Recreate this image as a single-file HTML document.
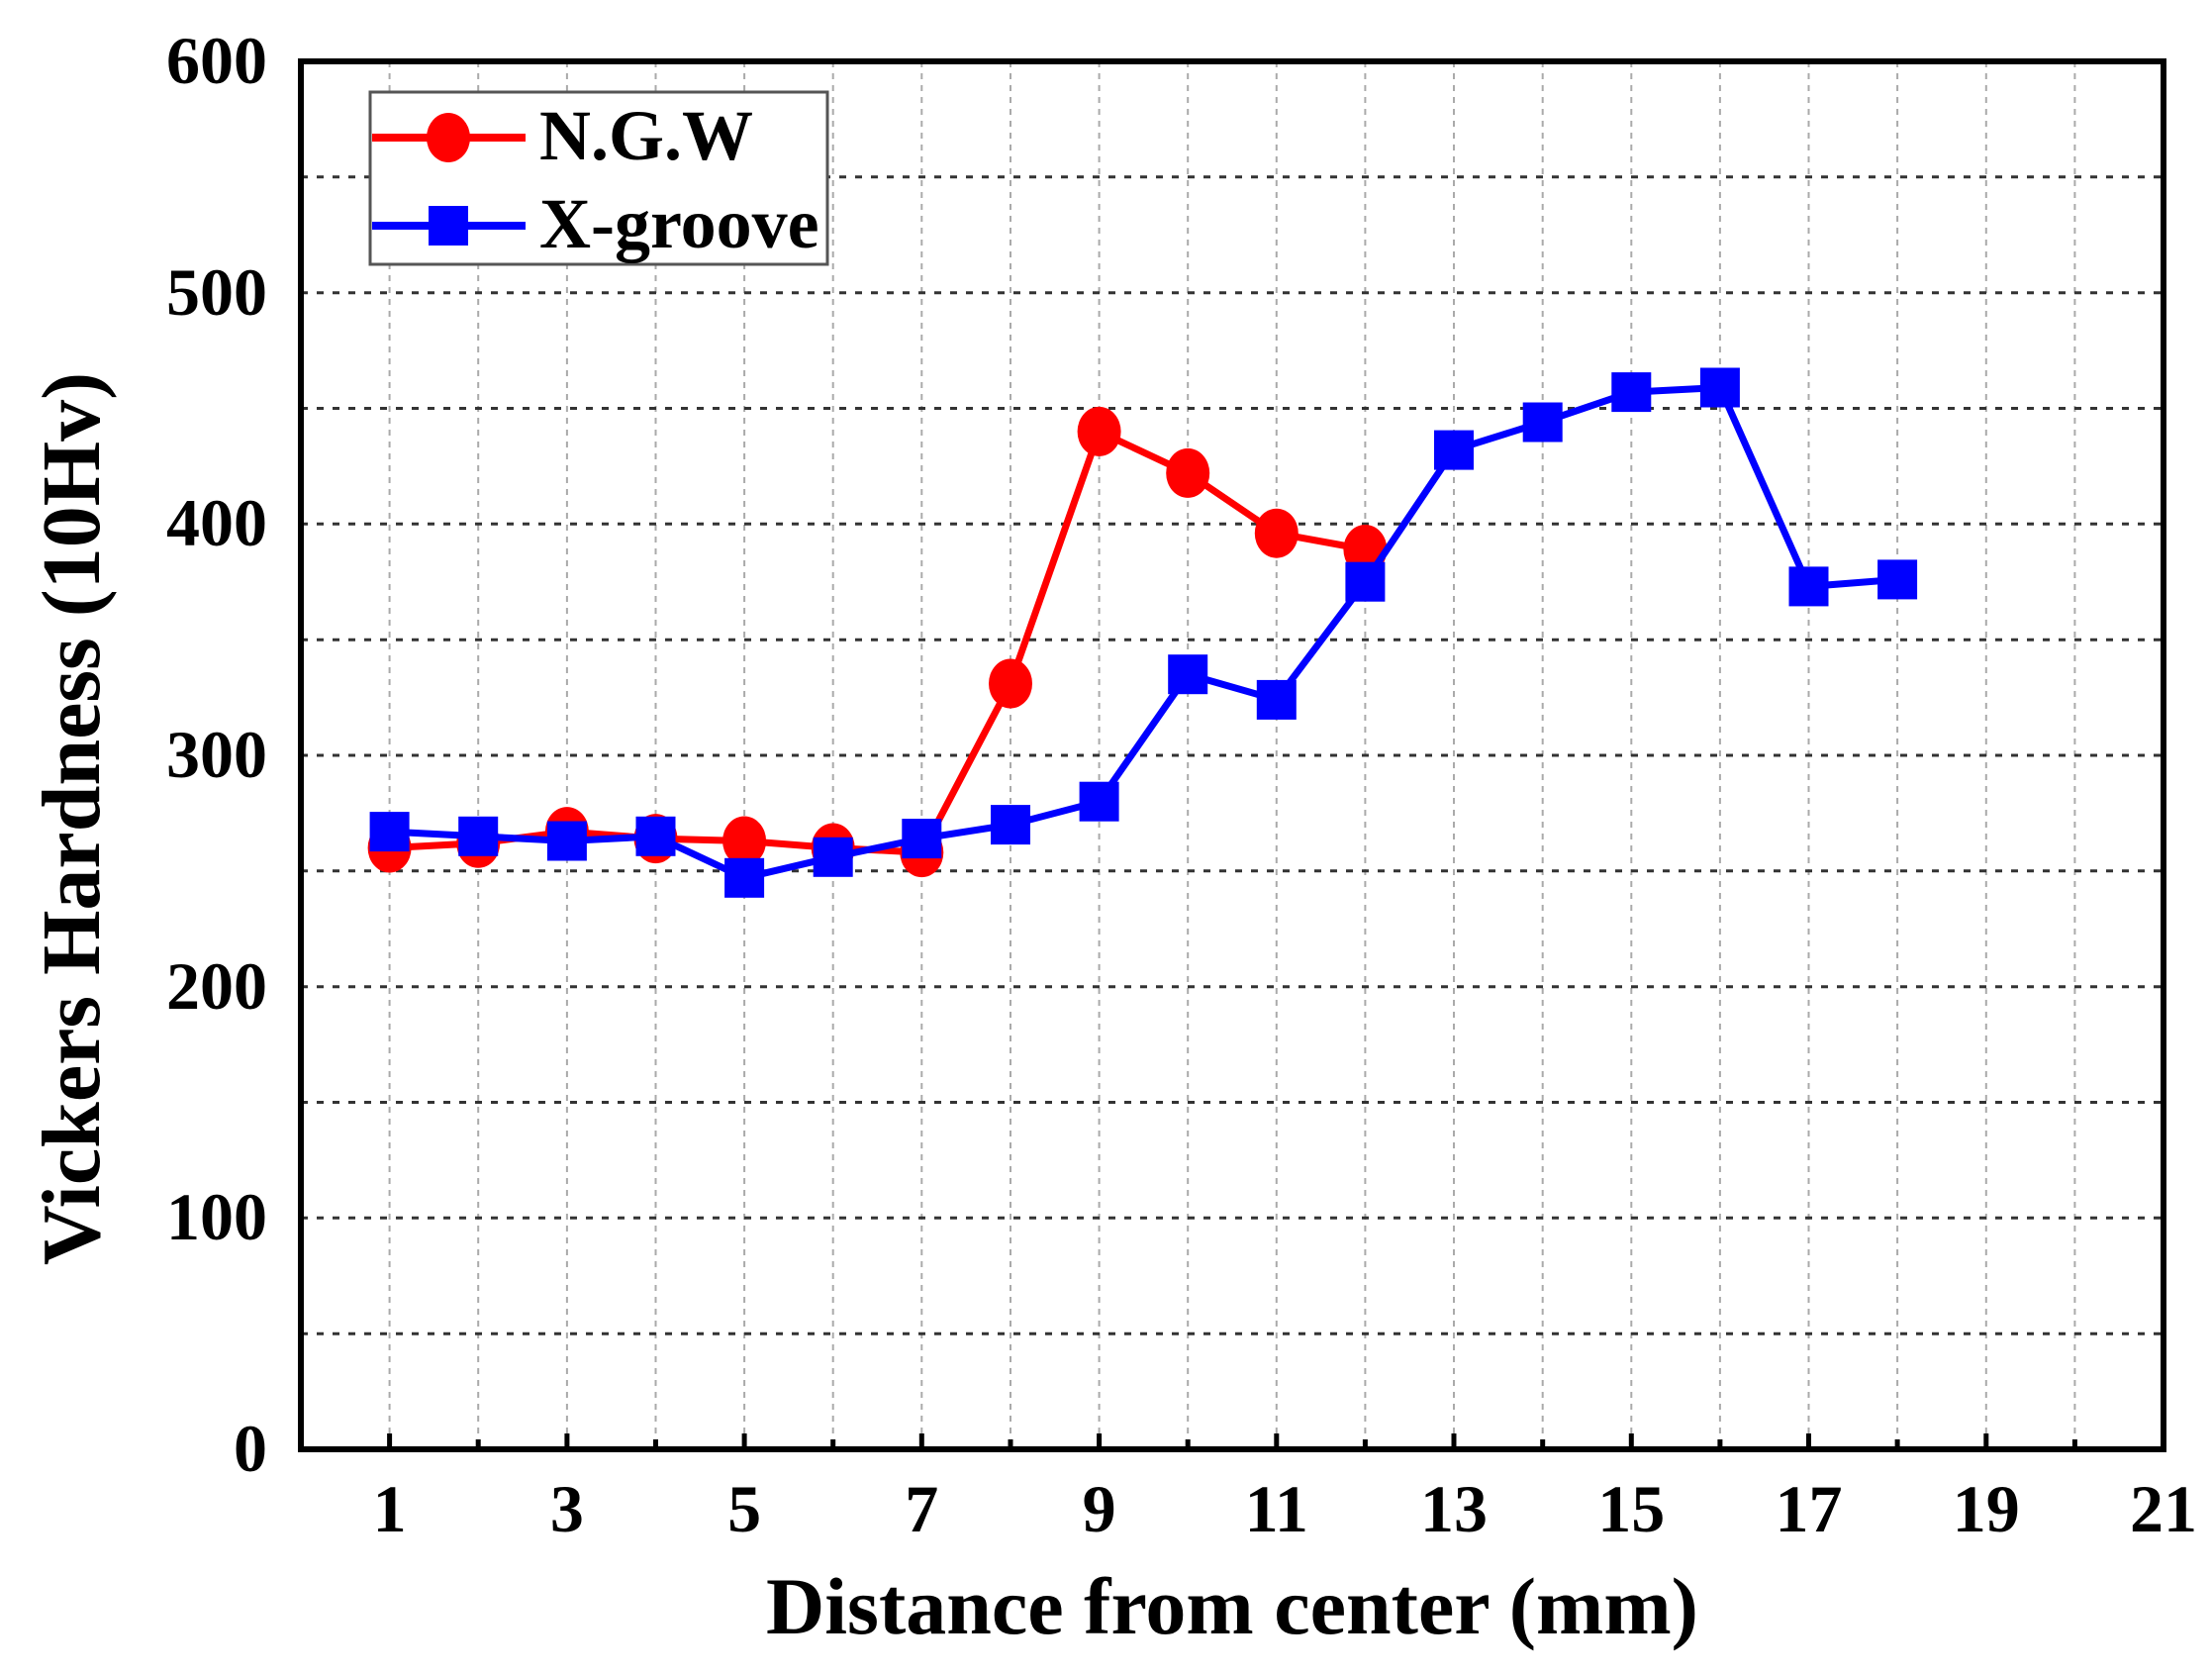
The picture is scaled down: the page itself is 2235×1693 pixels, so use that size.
<!DOCTYPE html>
<html><head><meta charset="utf-8"><style>html,body{margin:0;padding:0;background:#fff}</style></head>
<body>
<svg width="2235" height="1688" viewBox="0 0 2235 1688" xmlns="http://www.w3.org/2000/svg" font-family="Liberation Serif, serif" font-weight="bold">
<rect width="2235" height="1688" fill="#fff"/>
<path d="M393.6 62V1464M483.2 62V1464M572.9 62V1464M662.5 62V1464M752.1 62V1464M841.7 62V1464M931.3 62V1464M1021 62V1464M1110.6 62V1464M1200.2 62V1464M1289.8 62V1464M1379.4 62V1464M1469 62V1464M1558.7 62V1464M1648.3 62V1464M1737.9 62V1464M1827.5 62V1464M1917.1 62V1464M2006.8 62V1464M2096.4 62V1464" stroke="#aaa" stroke-width="2" stroke-dasharray="6,6"/>
<path d="M304 1347.2H2186M304 1230.3H2186M304 1113.5H2186M304 996.7H2186M304 879.8H2186M304 763H2186M304 646.2H2186M304 529.3H2186M304 412.5H2186M304 295.7H2186M304 178.8H2186" stroke="#333" stroke-width="3" stroke-dasharray="7,9"/>
<path d="M393.6 1464v-16M483.2 1464v-10M572.9 1464v-16M662.5 1464v-10M752.1 1464v-16M841.7 1464v-10M931.3 1464v-16M1021 1464v-10M1110.6 1464v-16M1200.2 1464v-10M1289.8 1464v-16M1379.4 1464v-10M1469 1464v-16M1558.7 1464v-10M1648.3 1464v-16M1737.9 1464v-10M1827.5 1464v-16M1917.1 1464v-10M2006.8 1464v-16M2096.4 1464v-10" stroke="#000" stroke-width="5"/>
<rect x="304" y="62" width="1882" height="1402" fill="none" stroke="#000" stroke-width="6"/>
<g font-size="68" text-anchor="middle">
<text x="393.6" y="1547">1</text><text x="572.9" y="1547">3</text><text x="752.1" y="1547">5</text><text x="931.3" y="1547">7</text><text x="1110.6" y="1547">9</text><text x="1289.8" y="1547">11</text><text x="1469" y="1547">13</text><text x="1648.3" y="1547">15</text><text x="1827.5" y="1547">17</text><text x="2006.8" y="1547">19</text><text x="2186" y="1547">21</text>
</g>
<g font-size="68" text-anchor="end">
<text x="270" y="1486">0</text><text x="270" y="1252">100</text><text x="270" y="1019">200</text><text x="270" y="785">300</text><text x="270" y="551">400</text><text x="270" y="318">500</text><text x="270" y="84">600</text>
</g>
<polyline points="393.6,856.5 483.2,851.8 572.9,840.1 662.5,847.1 752.1,849.5 841.7,856.5 931.3,861.1 1021,690.5 1110.6,435.9 1200.2,477.9 1289.8,538.7 1379.4,555" fill="none" stroke="#f00" stroke-width="7"/>
<g fill="#f00">
<ellipse cx="393.6" cy="856.5" rx="22" ry="25"/><ellipse cx="483.2" cy="851.8" rx="22" ry="25"/><ellipse cx="572.9" cy="840.1" rx="22" ry="25"/><ellipse cx="662.5" cy="847.1" rx="22" ry="25"/><ellipse cx="752.1" cy="849.5" rx="22" ry="25"/><ellipse cx="841.7" cy="856.5" rx="22" ry="25"/><ellipse cx="931.3" cy="861.1" rx="22" ry="25"/><ellipse cx="1021" cy="690.5" rx="22" ry="25"/><ellipse cx="1110.6" cy="435.9" rx="22" ry="25"/><ellipse cx="1200.2" cy="477.9" rx="22" ry="25"/><ellipse cx="1289.8" cy="538.7" rx="22" ry="25"/><ellipse cx="1379.4" cy="555" rx="22" ry="25"/>
</g>
<polyline points="393.6,840.1 483.2,844.8 572.9,849.5 662.5,844.8 752.1,886.8 841.7,865.8 931.3,847.1 1021,833.1 1110.6,809.7 1200.2,681.2 1289.8,706.9 1379.4,587.7 1469,454.6 1558.7,426.5 1648.3,396.1 1737.9,391.5 1827.5,592.4 1917.1,585.4" fill="none" stroke="#00f" stroke-width="7"/>
<g fill="#00f">
<rect x="373.6" y="820.1" width="40" height="40"/><rect x="463.2" y="824.8" width="40" height="40"/><rect x="552.9" y="829.5" width="40" height="40"/><rect x="642.5" y="824.8" width="40" height="40"/><rect x="732.1" y="866.8" width="40" height="40"/><rect x="821.7" y="845.8" width="40" height="40"/><rect x="911.3" y="827.1" width="40" height="40"/><rect x="1001" y="813.1" width="40" height="40"/><rect x="1090.6" y="789.7" width="40" height="40"/><rect x="1180.2" y="661.2" width="40" height="40"/><rect x="1269.8" y="686.9" width="40" height="40"/><rect x="1359.4" y="567.7" width="40" height="40"/><rect x="1449" y="434.6" width="40" height="40"/><rect x="1538.7" y="406.5" width="40" height="40"/><rect x="1628.3" y="376.1" width="40" height="40"/><rect x="1717.9" y="371.5" width="40" height="40"/><rect x="1807.5" y="572.4" width="40" height="40"/><rect x="1897.1" y="565.4" width="40" height="40"/>
</g>
<rect x="374" y="93" width="462" height="174" fill="#fff" stroke="#555" stroke-width="3"/>
<line x1="376" y1="139" x2="531" y2="139" stroke="#f00" stroke-width="8"/><ellipse cx="453" cy="139" rx="22" ry="25" fill="#f00"/>
<line x1="376" y1="228" x2="531" y2="228" stroke="#00f" stroke-width="8"/><rect x="433" y="208" width="40" height="40" fill="#00f"/>
<text x="545" y="161" font-size="72">N.G.W</text><text x="545" y="250" font-size="72">X-groove</text>
<text x="1245" y="1650" font-size="82" text-anchor="middle">Distance from center (mm)</text>
<text transform="translate(100,827) rotate(-90)" font-size="84" text-anchor="middle">Vickers Hardness (10Hv)</text>
</svg>
</body></html>
